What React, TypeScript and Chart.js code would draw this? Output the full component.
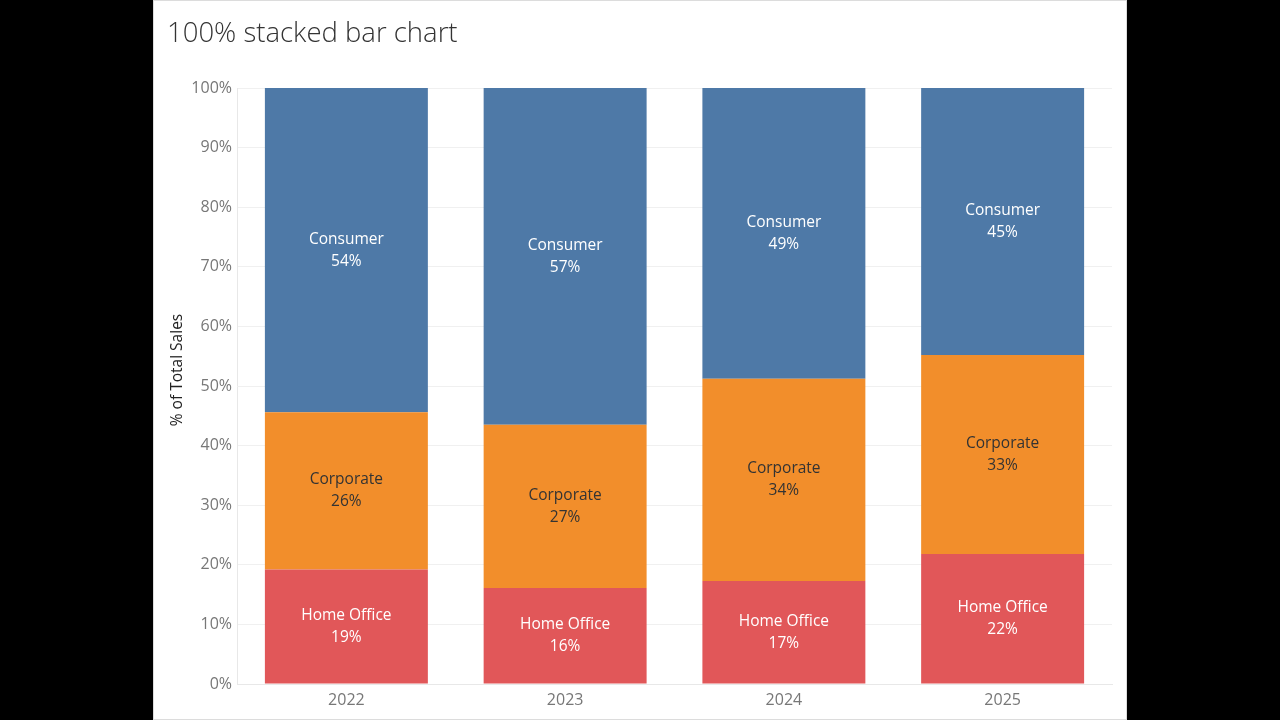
import React, { useEffect, useRef } from "react";
import { Chart, registerables } from "chart.js";

Chart.register(...registerables);

const years = ["2022", "2023", "2024", "2025"];
const homeOffice = [19.2, 16.1, 17.3, 21.8];
const corporate = [26.4, 27.4, 33.9, 33.4];
const consumer = [54.4, 56.5, 48.8, 44.8];
const segmentNames = ["Home Office", "Corporate", "Consumer"];
const segmentColors = ["#E15759", "#F28E2B", "#4E79A7"];
const labelColors = ["#ffffff", "#333333", "#ffffff"];
const yAxisTitle = "% of Total Sales";

const FONT = "'Open Sans', 'Noto Sans', sans-serif";

const barLabels = {
  id: "barLabels",
  afterDatasetsDraw(chart: any) {
    const ctx = chart.ctx;
    ctx.save();
    ctx.font = `15.5px ${FONT}`;
    ctx.textAlign = "center";
    ctx.textBaseline = "middle";
    chart.data.datasets.forEach((ds: any, di: number) => {
      const meta = chart.getDatasetMeta(di);
      meta.data.forEach((bar: any, i: number) => {
        const cy = (bar.y + bar.base) / 2;
        ctx.fillStyle = labelColors[di];
        ctx.fillText(ds.label, bar.x, cy - 11);
        ctx.fillText(Math.round(ds.data[i]) + "%", bar.x, cy + 11);
      });
    });
    ctx.restore();
  },
};

const axisTitle = {
  id: "axisTitle",
  afterDraw(chart: any) {
    const ctx = chart.ctx;
    const area = chart.chartArea;
    const y = (area.top + area.bottom) / 2 - 16;
    ctx.save();
    ctx.translate(25, y);
    ctx.rotate(-Math.PI / 2);
    ctx.font = `15.5px ${FONT}`;
    ctx.fillStyle = "#222222";
    ctx.textAlign = "center";
    ctx.textBaseline = "middle";
    ctx.fillText(yAxisTitle, 0, 0);
    ctx.restore();
  },
};

export default function App() {
  const ref = useRef<HTMLCanvasElement>(null);
  useEffect(() => {
    document.body.style.margin = "0";
    document.body.style.background = "#000";
    const chart = new Chart(ref.current!, {
      type: "bar",
      data: {
        labels: years,
        datasets: [
          { label: segmentNames[0], data: homeOffice, backgroundColor: segmentColors[0] },
          { label: segmentNames[1], data: corporate, backgroundColor: segmentColors[1] },
          { label: segmentNames[2], data: consumer, backgroundColor: segmentColors[2] },
        ],
      },
      options: {
        responsive: false,
        animation: false,
        datasets: { bar: { categoryPercentage: 1, barPercentage: 0.745 } },
        layout: { padding: { left: 14, right: 15, top: 0, bottom: 0 } },
        plugins: {
          legend: { display: false },
          tooltip: { enabled: false },
          title: {
            display: true,
            text: "100% stacked bar chart",
            align: "start",
            color: "#333333",
            font: { family: FONT, size: 27.5, weight: "300" as any },
            padding: { top: 18, bottom: 37 },
          },
        },
        scales: {
          x: {
            stacked: true,
            grid: { display: false, drawTicks: false },
            border: { color: "#e8e8e8" },
            ticks: { color: "#777777", font: { family: FONT, size: 16 }, padding: 7 },
            afterFit(scale: any) {
              scale.height = 36;
            },
          },
          y: {
            stacked: true,
            min: 0,
            max: 100,
            grid: { color: "#f0f0f0", drawTicks: false },
            border: { color: "#e8e8e8" },
            ticks: {
              stepSize: 10,
              color: "#777777",
              padding: 5,
              font: { family: FONT, size: 16 },
              callback: (v: any) => v + "%",
            },
            afterFit(scale: any) {
              scale.width = 70;
            },
          },
        },
      },
      plugins: [barLabels, axisTitle],
    });
    return () => chart.destroy();
  }, []);
  return (
    <div
      style={{
        position: "absolute",
        left: 153,
        top: 0,
        width: 974,
        height: 720,
        background: "#fff",
        boxShadow: "inset 0 0 0 1px #dcdcdc",
      }}
    >
      <canvas ref={ref} width={974} height={720} style={{ display: "block" }} />
    </div>
  );
}
